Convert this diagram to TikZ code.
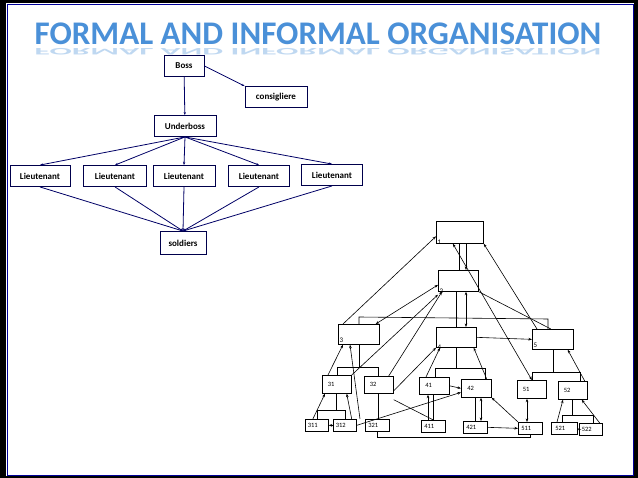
\documentclass[tikz,border=0pt]{standalone}
\usepackage{fontspec}
\setmainfont{Carlito}
\usetikzlibrary{arrows.meta}
\begin{document}
\begin{tikzpicture}[x=1pt,y=-1pt,
  ob/.style={draw=black!70!blue,line width=0.9pt,fill=white,minimum height=21pt,inner sep=2pt,font=\bfseries\fontsize{9}{9}\selectfont},
  ol/.style={draw=blue!40!black,line width=0.8pt,-{Stealth[length=3pt]}},
  ib/.style={draw,line width=0.7pt,anchor=north west,inner sep=1.5pt,font=\fontsize{6.5}{6.5}\selectfont,text width=18pt},
  bl/.style={anchor=south west,inner sep=1.5pt,font=\fontsize{7}{7}\selectfont},
  il/.style={line width=0.6pt},
  ia/.style={line width=0.6pt,-{Stealth[length=3.5pt]}},
  iaa/.style={line width=0.6pt,{Stealth[length=3.5pt]}-{Stealth[length=3.5pt]}}]
\fill[black] (0,0) rectangle (638,478);
\fill[white] (6,3) rectangle (634,476);
\draw[blue!60!black,line width=0.8pt] (7,4) rectangle (633,475);
\useasboundingbox (0,0) rectangle (638,478);
% title
\node[text={rgb,255:red,74;green,144;blue,216},yscale=-0.3,font=\bfseries\fontsize{33}{33}\selectfont,opacity=0.35] at (318,52) {FORMAL AND INFORMAL ORGANISATION};
\node[text={rgb,255:red,74;green,144;blue,216},font=\bfseries\fontsize{33}{33}\selectfont] (title) at (318,34) {FORMAL AND INFORMAL ORGANISATION};
% formal chart
\node[ob,minimum width=40pt] (boss) at (184,66) {Boss};
\node[ob,minimum width=62pt] (cons) at (276,97) {consigliere};
\node[ob,minimum width=62pt] (ub) at (185,126) {Underboss};
\node[ob,minimum width=60pt] (l1) at (40,176) {Lieutenant};
\node[ob,minimum width=63pt] (l2) at (115,176) {Lieutenant};
\node[ob,minimum width=62pt] (l3) at (184,176) {Lieutenant};
\node[ob,minimum width=61pt] (l4) at (259,176) {Lieutenant};
\node[ob,minimum width=61pt] (l5) at (332,175) {Lieutenant};
\node[ob,minimum width=46pt,minimum height=23pt] (sol) at (183,243) {soldiers};
\draw[ol] (boss.east) -- (cons.north west);
\draw[ol] (boss) -- (ub);
\foreach \l in {l1,l2,l3,l4,l5}{\draw[ol] (ub.south) -- (\l.north); \draw[ol] (\l.south) -- (sol.north);}
% informal chart
\node[ib,minimum width=47pt,minimum height=22pt] (n1) at (436,221) {};
\node[bl] at ([yshift=-3pt]n1.south west) {1};
\node[ib,minimum width=40pt,minimum height=21pt] (n2) at (438,270) {};
\node[bl] at ([yshift=-4pt]n2.south west) {2};
\node[ib,minimum width=41pt,minimum height=20pt] (n3) at (338,324) {};
\node[bl] at ([yshift=0pt]n3.south west) {3};
\node[ib,minimum width=40pt,minimum height=20pt] (n4) at (436,327) {};
\node[bl] at ([yshift=-4pt]n4.south west) {4};
\node[ib,minimum width=41pt,minimum height=20pt] (n5) at (532,329) {};
\node[bl] at ([yshift=0pt]n5.south west) {5};
\node[ib,minimum width=29pt,minimum height=18pt] (n31) at (322,375) {31};
\node[ib,minimum width=29pt,minimum height=17pt] (n32) at (364,376) {32};
\node[ib,minimum width=30pt,minimum height=17pt] (n41) at (419,377) {41};
\node[ib,minimum width=30pt,minimum height=18pt] (n42) at (461,379) {42};
\node[ib,minimum width=29pt,minimum height=18pt] (n51) at (517,380) {51};
\node[ib,minimum width=29pt,minimum height=18pt] (n52) at (558,381) {52};
\node[ib,minimum width=23pt,minimum height=12pt] (n311) at (305,419) {311};
\node[ib,minimum width=23pt,minimum height=12pt] (n312) at (333,419) {312};
\node[ib,minimum width=24pt,minimum height=12pt] (n321) at (365,419) {321};
\node[ib,minimum width=24pt,minimum height=12pt] (n411) at (421,420) {411};
\node[ib,minimum width=24pt,minimum height=12pt] (n421) at (463,421) {421};
\node[ib,minimum width=24pt,minimum height=12pt] (n511) at (518,422) {511};
\node[ib,minimum width=26pt,minimum height=12pt] (n521) at (551,422) {521};
\node[ib,minimum width=23pt,minimum height=12pt] (n522) at (579,423) {522};
% tree lines
\draw[il] (n1.south -| 459,0) -- (n2.north -| 459,0);
\draw[ia] (n1.south -| 466,0) -- (n2.north -| 466,0);
\draw[il] (n2.south -| 456,0) -- (n4.north -| 456,0);
\draw[iaa] (n2.south -| 466,0) -- (n4.north -| 466,0);
\draw[il] (n3.north -| 359,0) -- (359,317) -- (548,319) -- (n5.north -| 548,0);
\draw[il] (n3.south -| 359,0) -- (359,367);
\draw[il] (n31.north -| 337,0) -- (337,367) -- (378,367) -- (n32.north -| 378,0);
\draw[il] (n32.south -| 378,0) -- (n321.north -| 378,0);
\draw[il] (n4.south -| 456,0) -- (456,368);
\draw[il] (n41.north -| 435,0) -- (435,368) -- (485,368) -- (n42.north -| 485,0);
\draw[il] (n5.south -| 553,0) -- (553,372);
\draw[il] (n51.north -| 532,0) -- (532,372) -- (580,372) -- (n52.north -| 580,0);
\draw[il] (n31.south -| 336,0) -- (336,410);
\draw[il] (n311.north -| 317,0) -- (317,410) -- (345,410) -- (n312.north -| 345,0);
\draw[il] (n52.south -| 572,0) -- (572,415);
\draw[il] (n521.north -| 562,0) -- (562,415) -- (593,415) -- (n522.north -| 593,0);
\draw[ia] (n411.north -| 428,0) -- (n41.south -| 428,0);
\draw[il] (n41.south -| 433,0) -- (n411.north -| 433,0);
\draw[il] (n42.south -| 475,0) -- (n421.north -| 475,0);
\draw[iaa] (n42.south -| 481,0) -- (n421.north -| 481,0);
\draw[iaa] (n51.south -| 527,0) -- (n511.north -| 527,0);
\draw[il] (n321.south -| 377,0) -- (377,437) -- (530,437) -- (n511.south -| 530,0);
% informal arrows
\draw[ia] (n3.north west) ++(5,0) -- ([yshift=-4pt]n1.west);
\draw[ia] (n5.north west) ++(5,0) -- (n1.south east);
\draw[iaa] ([xshift=-7pt]n1.south) -- (n51.north);
\draw[iaa] ([yshift=-4pt]n2.west) -- ([xshift=-4pt]n3.north east);
\draw[ia] (n31.north east) -- ([yshift=-3pt]n2.south west);
\draw[ia] (n32.north east) ++(-5,0) -- ([xshift=4pt]n2.south west);
\draw[il] (n2.south east) -- ([xshift=-2pt]n5.north);
\draw[ia] ([yshift=-6pt]n32.east) -- (n4.south west);
\draw[ia] (n4.east) -- (n5.west);
\draw[ia] ([xshift=6pt]n31.north west) -- ([xshift=5pt]n3.south west);
\draw[ia] ([xshift=-5pt]n321.north west) -- ([xshift=12pt]n3.south west);
\draw[ia] ([xshift=7pt]n41.north west) -- ([xshift=4pt]n4.south west);
\draw[ia] ([xshift=-5pt]n42.north east) -- ([xshift=-3pt]n4.south east);
\draw[ia] (n41.east) -- (n42.west);
\draw[ia] (n312.east) -- ([yshift=-4pt]n42.west);
\draw[il] ([yshift=-6pt]n32.south east) -- (n411.north);
\draw[ia] (n511.north west) -- (n42.south east);
\draw[ia] (n421.east) -- (n511.west);
\draw[ia] ([xshift=-3pt]n52.north east) -- ([xshift=-6pt]n5.south east);
\draw[ia] ([xshift=6pt]n521.north west) -- ([xshift=5pt]n52.south west);
\draw[ia] ([xshift=-3pt]n522.north east) -- ([xshift=-6pt]n52.south east);
\draw[ia] ([xshift=-4pt]n311.north) -- ([xshift=3pt]n31.south west);
\draw[ia] ([xshift=-5pt]n312.north east) -- ([xshift=-5pt]n31.south east);
\draw[ia] (n312.west) -- (n311.east);
\draw[ia] (n522.west) -- (n521.east);
\end{tikzpicture}
\end{document}
